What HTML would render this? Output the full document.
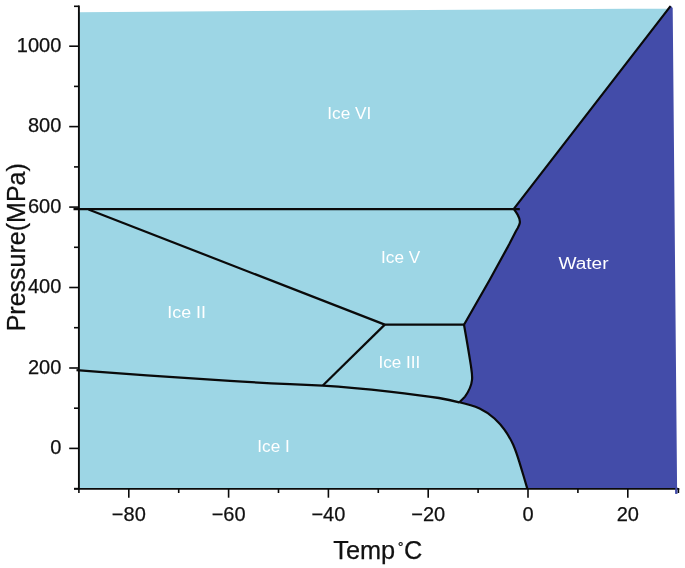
<!DOCTYPE html>
<html lang="en"><head><meta charset="utf-8"><title>Ice phase diagram</title>
<style>
html,body{margin:0;padding:0;background:#fff;}
body{width:685px;height:568px;overflow:hidden;font-family:"Liberation Sans", sans-serif;}
svg{display:block;}
</style></head>
<body>
<svg width="685" height="568" viewBox="0 0 685 568">
<rect width="685" height="568" fill="#ffffff"/>
<path d="M 670.5 5.6 L 672.7 8 L 677.1 489 L 677.4 493.8 L 675.3 493.8 L 675.3 489 L 527.3 489 L 500 489 L 440 400 L 460 324 L 514 209 Z" fill="#434ca9"/>
<path d="M 78 12.2 L 668.6 8.4 L 670.5 6.1 L 513.8 208.9 C 515 210.6 516.6 212.8 517.6 214.6 C 519.3 217.6 520.2 220.4 519.8 223 C 519.5 224.8 518.6 226.3 517.6 228.2 L 516 231 L 509.2 244.3 L 489.6 280 L 464 324.7 C 466 336 468.8 352 470.7 364.4 C 471.8 372 472.6 376 472 380 C 471.5 385 469 391 465 396.6 C 463 399 461 400.5 459.3 402.3 C 467 404 474 406 479.6 408.5 C 485 411 490 414.5 494.5 418.5 C 498 421.8 501.5 425.5 504.4 429.6 C 508 434.5 510.8 439.5 513.1 444.5 C 515.5 450 517.5 456 519.3 461.9 L 523.8 476.8 L 527.3 488.6 L 78 488.6 Z" fill="#9dd6e5"/>
<path d="M 670.5 6.1 L 513.8 208.9 C 515 210.6 516.6 212.8 517.6 214.6 C 519.3 217.6 520.2 220.4 519.8 223 C 519.5 224.8 518.6 226.3 517.6 228.2 L 516 231 L 509.2 244.3 L 489.6 280 L 464 324.7 C 466 336 468.8 352 470.7 364.4 C 471.8 372 472.6 376 472 380 C 471.5 385 469 391 465 396.6 C 463 399 461 400.5 459.3 402.3 C 467 404 474 406 479.6 408.5 C 485 411 490 414.5 494.5 418.5 C 498 421.8 501.5 425.5 504.4 429.6 C 508 434.5 510.8 439.5 513.1 444.5 C 515.5 450 517.5 456 519.3 461.9 L 523.8 476.8 L 527.3 488.6" fill="none" stroke="#0a0a0a" stroke-width="2.2" stroke-linejoin="round"/>
<path d="M 76.5 370.2 C 100 372 125 373.8 146.8 375.4 C 175 377.4 205 379.3 230 380.9 C 250 382.2 270 383.2 290 384.1 L 322.8 385.6 C 345 387 368 389.2 389.3 391.6 C 405 393.4 422 395.4 438.9 398 C 446 399.2 453 400.7 459.3 402.3" fill="none" stroke="#0a0a0a" stroke-width="2.3"/>
<path d="M 73.5 209.1 L 519.8 209.1" fill="none" stroke="#0a0a0a" stroke-width="2.2" stroke-linecap="butt"/>
<path d="M 88.5 209.5 L 384.8 324.6" fill="none" stroke="#0a0a0a" stroke-width="2.2" stroke-linecap="butt"/>
<path d="M 384.8 324.7 L 464 324.7" fill="none" stroke="#0a0a0a" stroke-width="2.2" stroke-linecap="butt"/>
<path d="M 384.8 324.6 L 322.8 385.5" fill="none" stroke="#0a0a0a" stroke-width="2.2" stroke-linecap="butt"/>
<g stroke="#0a0a0a" stroke-width="1.9" fill="none"><path d="M 78.9 5.5 L 78.9 489.6" /><path d="M 74 488.9 L 679.3 488.9" /></g>
<g stroke="#0a0a0a" stroke-width="1.6" fill="none"><path d="M 74 488.6 L 78.9 488.6"/><path d="M 69.2 448.4 L 78.9 448.4"/><path d="M 74 408.2 L 78.9 408.2"/><path d="M 69.2 368.0 L 78.9 368.0"/><path d="M 74 327.7 L 78.9 327.7"/><path d="M 69.2 287.5 L 78.9 287.5"/><path d="M 74 247.3 L 78.9 247.3"/><path d="M 69.2 207.1 L 78.9 207.1"/><path d="M 74 166.9 L 78.9 166.9"/><path d="M 69.2 126.6 L 78.9 126.6"/><path d="M 74 86.4 L 78.9 86.4"/><path d="M 69.2 46.2 L 78.9 46.2"/><path d="M 74 6.3 L 78.9 6.3"/><path d="M 78.9 488.9 L 78.9 493"/><path d="M 128.8 488.9 L 128.8 497.7"/><path d="M 178.7 488.9 L 178.7 493"/><path d="M 228.6 488.9 L 228.6 497.7"/><path d="M 278.5 488.9 L 278.5 493"/><path d="M 328.4 488.9 L 328.4 497.7"/><path d="M 378.3 488.9 L 378.3 493"/><path d="M 428.2 488.9 L 428.2 497.7"/><path d="M 478.1 488.9 L 478.1 493"/><path d="M 528.0 488.9 L 528.0 497.7"/><path d="M 577.9 488.9 L 577.9 493"/><path d="M 627.8 488.9 L 627.8 497.7"/><path d="M 678.4 488.9 L 678.4 493"/></g>
<rect x="675.3" y="487" width="2.0" height="6.8" fill="#434ca9"/>
<g font-family='"Liberation Sans", sans-serif' font-size="20" fill="#111" stroke="#111" stroke-width="0.25"><text x="61.3" y="454.0" text-anchor="end">0</text><text x="61.3" y="373.6" text-anchor="end">200</text><text x="61.3" y="293.1" text-anchor="end">400</text><text x="61.3" y="212.7" text-anchor="end">600</text><text x="61.3" y="132.2" text-anchor="end">800</text><text x="61.3" y="51.8" text-anchor="end">1000</text><text x="128.8" y="520.7" text-anchor="middle">−80</text><text x="228.6" y="520.7" text-anchor="middle">−60</text><text x="328.4" y="520.7" text-anchor="middle">−40</text><text x="428.2" y="520.7" text-anchor="middle">−20</text><text x="528.0" y="520.7" text-anchor="middle">0</text><text x="627.8" y="520.7" text-anchor="middle">20</text></g>
<g font-family='"Liberation Sans", sans-serif' font-size="25.3" fill="#111" stroke="#111" stroke-width="0.25"><text x="333.3" y="558.9">Temp<tspan x="398.2" y="554.5" font-size="17">˚</tspan><tspan x="404" y="558.9">C</tspan></text></g>
<text transform="translate(24.6 331.3) rotate(-90)" font-family='"Liberation Sans", sans-serif' font-size="25" fill="#111" stroke="#111" stroke-width="0.25">Pressure(MPa)</text>
<g font-family='"Liberation Sans", sans-serif' font-size="17.3" fill="#ffffff"><text x="327.3" y="118.5" textLength="44.0" lengthAdjust="spacingAndGlyphs">Ice VI</text><text x="381.0" y="262.9" textLength="39.2" lengthAdjust="spacingAndGlyphs">Ice V</text><text x="167.3" y="317.6" textLength="38.7" lengthAdjust="spacingAndGlyphs">Ice II</text><text x="378.4" y="368.4" textLength="41.8" lengthAdjust="spacingAndGlyphs">Ice III</text><text x="257.3" y="451.8" textLength="32.5" lengthAdjust="spacingAndGlyphs">Ice I</text><text x="558.4" y="269.0" textLength="50.2" lengthAdjust="spacingAndGlyphs">Water</text></g>
</svg>
</body></html>
